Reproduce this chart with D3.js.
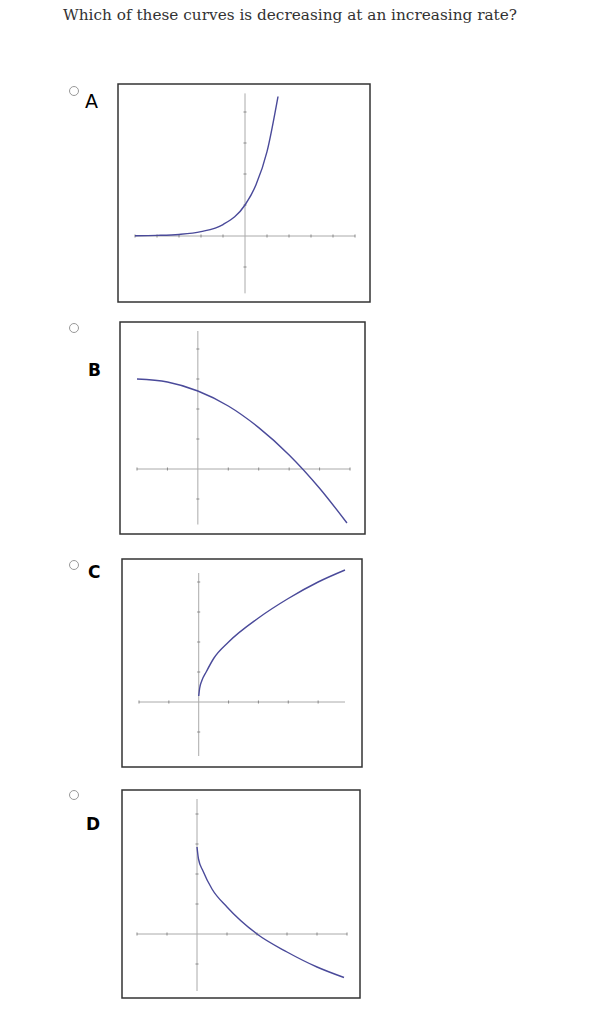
<!DOCTYPE html><html><head><meta charset="utf-8"><script src="https://cdn.jsdelivr.net/npm/d3@7"></script>
<style>body{margin:0;background:#fff}</style></head><body><svg id="c" width="604" height="1024"></svg>
<script>
const title = "Which of these curves is decreasing at an increasing rate?";
const labels = ["A","B","C","D"];
const aX=[-5,-4,-3,-2,-1,0,0.5,1,1.5], aY=[0.01,0.02,0.05,0.14,0.37,1,1.65,2.72,4.5];
const bX=[-2,-1,0,1,2,3,4,4.9], bY=[3,2.9,2.6,2.1,1.38,0.47,-0.64,-1.8];
const cX=[0,0.03,0.1,0.25,0.5,1,2,3,4,4.9], cY=[0.2,0.45,0.7,1.0,1.45,2.0,2.8,3.45,4.0,4.4];
const dX=[0,0.05,0.2,0.5,1,2,3,4,4.9], dY=[2.9,2.5,2.1,1.5,0.9,0,-0.6,-1.1,-1.45];
const panels=[
 {box:[118,84,252,218],x:[-5,5],px:[135,355],y0:236,u:31,yr:[-1.85,4.6],xs:aX,ys:aY,lab:[74,91],lx:85,ly:108},
 {box:[120,322,245,212],x:[-2,5],px:[137,350],y0:469,u:30,yr:[-1.85,4.6],xs:bX,ys:bY,lab:[74,328],lx:88,ly:376},
 {box:[122,559,240,208],x:[-2,4.9],px:[139,345],y0:702,u:30,yr:[-1.8,4.3],xs:cX,ys:cY,lab:[74,565],lx:88,ly:578},
 {box:[122,790,238,208],x:[-2,5],px:[137,347],y0:934,u:30,yr:[-1.9,4.5],xs:dX,ys:dY,lab:[74,795],lx:86,ly:830}
];
const svg=d3.select("#c");
svg.append("text").attr("x",63).attr("y",20).attr("font-family","DejaVu Serif, serif").attr("font-size",14.5).attr("fill","#333")
 .attr("textLength",454).attr("lengthAdjust","spacingAndGlyphs").text(title);
panels.forEach((p,i)=>{
 const g=svg.append("g");
 g.append("rect").attr("x",p.box[0]).attr("y",p.box[1]).attr("width",p.box[2]).attr("height",p.box[3]).attr("fill","#fff").attr("stroke","#333").attr("stroke-width",1.5);
 const x=d3.scaleLinear().domain(p.x).range(p.px);
 const y=d3.scaleLinear().domain([0,1]).range([p.y0,p.y0-p.u]);
 const ax=x(0);
 g.append("line").attr("x1",p.px[0]).attr("x2",p.px[1]).attr("y1",p.y0).attr("y2",p.y0).attr("stroke","#aaa");
 g.append("line").attr("x1",ax).attr("x2",ax).attr("y1",y(p.yr[1])).attr("y2",y(p.yr[0])).attr("stroke","#aaa");
 d3.range(Math.ceil(p.x[0]),Math.floor(p.x[1])+1).filter(v=>v!==0).forEach(v=>g.append("line").attr("x1",x(v)).attr("x2",x(v)).attr("y1",p.y0-1.5).attr("y2",p.y0+1.5).attr("stroke","#888"));
 d3.range(Math.ceil(p.yr[0]),Math.floor(p.yr[1])+1).filter(v=>v!==0).forEach(v=>g.append("line").attr("y1",y(v)).attr("y2",y(v)).attr("x1",ax-1.5).attr("x2",ax+1.5).attr("stroke","#888"));
 const line=d3.line().x(d=>x(d[0])).y(d=>y(d[1])).curve(d3.curveMonotoneX);
 g.append("path").attr("d",line(p.xs.map((v,j)=>[v,p.ys[j]]))).attr("fill","none").attr("stroke","#4a4a9a").attr("stroke-width",1.4);
 g.append("circle").attr("cx",p.lab[0]).attr("cy",p.lab[1]).attr("r",4.5).attr("fill","#fff").attr("stroke","#999").attr("stroke-width",1);
 g.append("text").attr("x",p.lx).attr("y",p.ly).attr("font-family","DejaVu Sans, sans-serif").attr("font-weight",i==0?"normal":"bold").attr("font-size",i==0?19:17).attr("fill","#000").text(labels[i]);
});
</script></body></html>
